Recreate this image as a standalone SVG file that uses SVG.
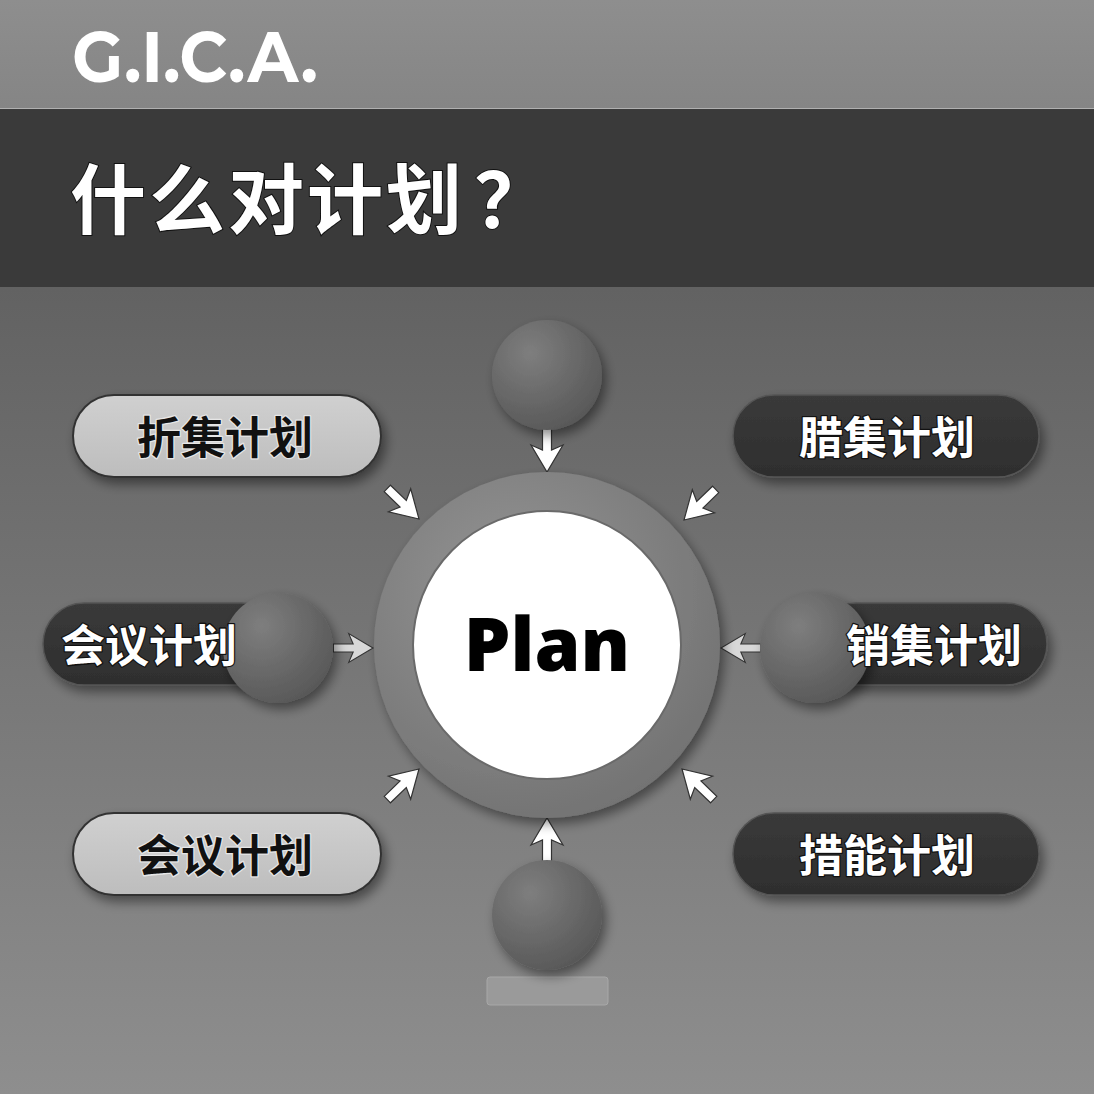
<svg xmlns="http://www.w3.org/2000/svg" width="1094" height="1094" viewBox="0 0 1094 1094">
<defs>
<linearGradient id="topband" x1="0" y1="0" x2="0" y2="1"><stop offset="0" stop-color="#8e8e8e"/><stop offset="1" stop-color="#858585"/></linearGradient>
<linearGradient id="body" x1="0" y1="0" x2="0" y2="1"><stop offset="0" stop-color="#626262"/><stop offset="1" stop-color="#8e8e8e"/></linearGradient>
<radialGradient id="sphere" cx="0.35" cy="0.3" r="0.75"><stop offset="0" stop-color="#7e7e7e"/><stop offset="1" stop-color="#585858"/></radialGradient>
<radialGradient id="ring" cx="0.4" cy="0.35" r="0.7"><stop offset="0" stop-color="#959595"/><stop offset="1" stop-color="#727272"/></radialGradient>
<linearGradient id="lightpill" x1="0" y1="0" x2="0" y2="1"><stop offset="0" stop-color="#d0d0d0"/><stop offset="1" stop-color="#bdbdbd"/></linearGradient>
<linearGradient id="darkpill" x1="0" y1="0" x2="0" y2="1"><stop offset="0" stop-color="#3a3a3a"/><stop offset="1" stop-color="#2e2e2e"/></linearGradient>
<filter id="shadow" x="-30%" y="-30%" width="160%" height="160%"><feGaussianBlur in="SourceAlpha" stdDeviation="6"/><feOffset dx="4" dy="6"/><feComponentTransfer><feFuncA type="linear" slope="0.45"/></feComponentTransfer><feMerge><feMergeNode/><feMergeNode in="SourceGraphic"/></feMerge></filter>
<polygon id="arr" points="-44,-4.5 -22,-4.5 -27,-16 0,0 -27,16 -22,4.5 -44,4.5"/>
<clipPath id="clipml"><rect x="200" y="590" width="40" height="100"/></clipPath>
</defs>
<style>
.cjk{font-family:"Noto Sans CJK SC","Noto Sans",sans-serif;font-weight:700;}
.pilltxt{font-size:44px;text-anchor:middle;paint-order:stroke;stroke-width:2.5px;stroke-linejoin:round;}
.lt{fill:#111;stroke:#e6e6e6;}
.dk{fill:#fff;stroke:#111;}
.arrow{fill:#fff;stroke:#333;stroke-width:1.2;}
</style>
<rect x="0" y="0" width="1094" height="108" fill="url(#topband)"/>
<rect x="0" y="287" width="1094" height="807" fill="url(#body)"/>
<rect x="0" y="108" width="1094" height="179" fill="#3a3a3a"/>
<line x1="0" y1="108.5" x2="1094" y2="108.5" stroke="#b0b0b0" stroke-width="1"/>
<g id="brand"><text x="72" y="82" font-family="Montserrat,'Liberation Sans',sans-serif" font-weight="700" font-size="72" fill="#fff" textLength="246" lengthAdjust="spacingAndGlyphs">G.I.C.A.</text></g>
<g id="title"><text x="70" y="228" class="cjk" font-weight="900" font-size="76" fill="#fff" stroke="#111" stroke-width="2" paint-order="stroke" letter-spacing="3">什么对计划<tspan x="474">？</tspan></text></g>

<g id="connectors">
<use href="#arr" class="arrow" transform="translate(547,472) rotate(90)"/>
<use href="#arr" class="arrow" transform="translate(419,519) rotate(44)"/>
<use href="#arr" class="arrow" transform="translate(684,520) rotate(136)"/>
<use href="#arr" class="arrow" style="fill:#d8d8d8" transform="translate(373,648) scale(0.9)"/>
<use href="#arr" class="arrow" style="fill:#d8d8d8" transform="translate(721,648) rotate(180) scale(0.9)"/>
<use href="#arr" class="arrow" transform="translate(419,769) rotate(-44)"/>
<use href="#arr" class="arrow" transform="translate(682,769) rotate(-136)"/>
<use href="#arr" class="arrow" transform="translate(547,818) rotate(-90)"/>
</g>

<g id="plan">
<circle cx="547" cy="645" r="173" fill="url(#ring)" filter="url(#shadow)"/>
<circle cx="547" cy="645" r="134" fill="#fff" stroke="#6a6a6a" stroke-width="2"/>
<text x="547" y="671" text-anchor="middle" font-family="'Open Sans','Noto Sans',sans-serif" font-weight="800" font-size="74" fill="#000">Plan</text>
</g>

<g id="sphere-top"><circle cx="547" cy="375" r="55" fill="url(#sphere)" filter="url(#shadow)"/></g>
<g id="sphere-bottom">
<rect x="487" y="977" width="121" height="28" rx="3" fill="#9a9a9a" stroke="#a8a8a8"/>
<circle cx="547" cy="915" r="55" fill="url(#sphere)" filter="url(#shadow)"/>
</g>

<g id="pill-tl"><rect x="73" y="395" width="308" height="82" rx="41" fill="url(#lightpill)" stroke="#333" stroke-width="2" filter="url(#shadow)"/><text x="225" y="454" class="cjk pilltxt lt">折集计划</text></g>
<g id="pill-tr"><rect x="733" y="395" width="306" height="82" rx="41" fill="url(#darkpill)" stroke="#555" stroke-width="1.5" filter="url(#shadow)"/><text x="887" y="454" class="cjk pilltxt dk">腊集计划</text></g>

<g id="pill-ml"><rect x="43" y="603" width="240" height="82" rx="41" fill="url(#darkpill)" stroke="#555" stroke-width="1.5" filter="url(#shadow)"/><text x="149" y="662" class="cjk pilltxt dk">会议计划</text>
<circle cx="278" cy="648" r="55" fill="url(#sphere)" filter="url(#shadow)"/>
<text x="149" y="662" class="cjk pilltxt dk" clip-path="url(#clipml)">会议计划</text>
</g>

<g id="pill-mr"><rect x="815" y="603" width="232" height="82" rx="41" fill="url(#darkpill)" stroke="#555" stroke-width="1.5" filter="url(#shadow)"/>
<circle cx="815" cy="648" r="55" fill="url(#sphere)" filter="url(#shadow)"/>
<text x="934" y="662" class="cjk pilltxt dk">销集计划</text></g>

<g id="pill-bl"><rect x="73" y="813" width="308" height="82" rx="41" fill="url(#lightpill)" stroke="#333" stroke-width="2" filter="url(#shadow)"/><text x="225" y="872" class="cjk pilltxt lt">会议计划</text></g>
<g id="pill-br"><rect x="733" y="813" width="306" height="82" rx="41" fill="url(#darkpill)" stroke="#555" stroke-width="1.5" filter="url(#shadow)"/><text x="887" y="872" class="cjk pilltxt dk">措能计划</text></g>
</svg>
